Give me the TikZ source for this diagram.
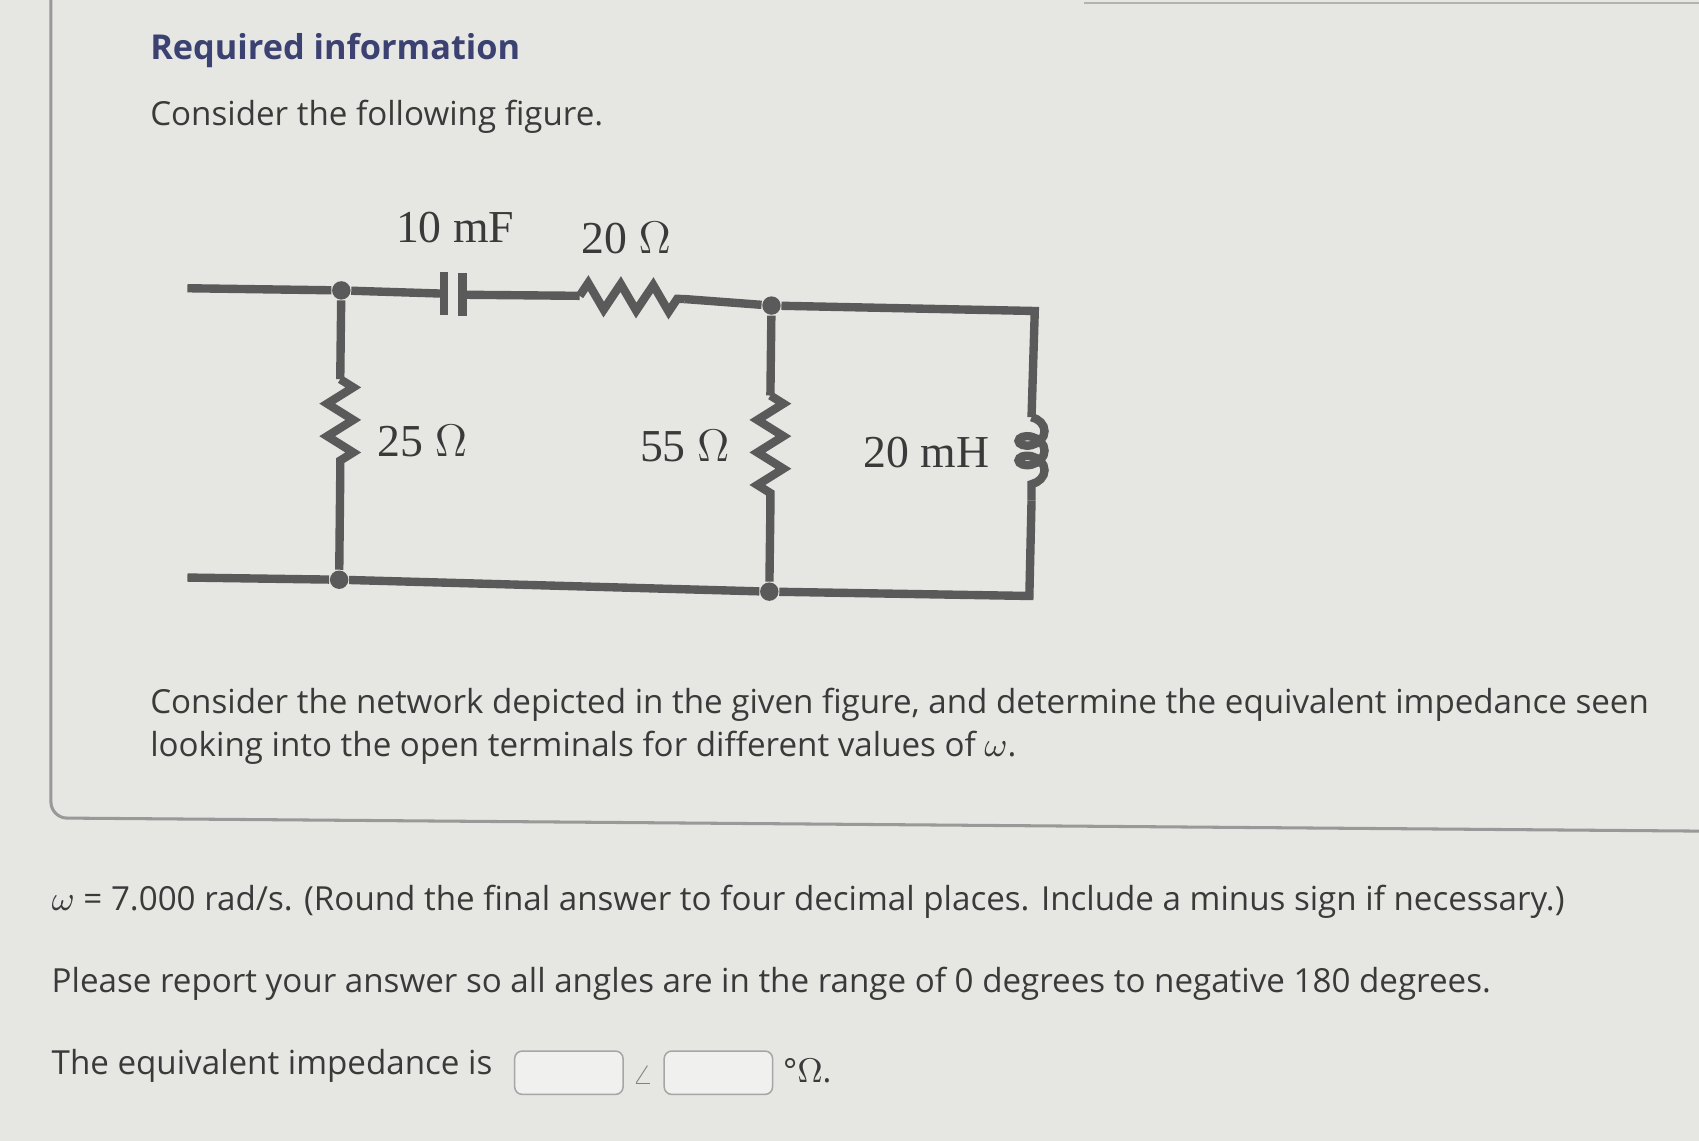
\documentclass[tikz,border=0pt]{standalone}
\usepackage{fontspec}
\setmainfont{Open Sans}
\newfontfamily\ckt{Liberation Serif}
\usetikzlibrary{decorations.pathmorphing}
\definecolor{bg}{HTML}{E6E6E3}
\definecolor{wire}{HTML}{5A5A5A}
\definecolor{txt}{HTML}{3A3A3A}
\definecolor{head}{HTML}{3B4272}
\begin{document}
\begin{tikzpicture}[x=0.01cm,y=-0.01cm,
  w/.style={draw=wire,line width=2.2pt},
  res/.style={w,decorate,decoration={zigzag,segment length=0.3cm,amplitude=0.12cm}},
  ind/.style={w,decorate,decoration={coil,aspect=0.7,segment length=0.18cm,amplitude=0.12cm}},
  dotn/.style={circle,fill=wire,inner sep=0pt,minimum size=0.17cm},
  lab/.style={font=\ckt\fontsize{12}{14}\selectfont,text=txt},
  para/.style={font=\fontsize{8.7}{10}\selectfont,text=txt,anchor=west,inner sep=0},
  ansbox/.style={draw=gray!70,rounded corners=2pt,minimum width=1cm,minimum height=0.4cm,fill=bg!60!white}]
\fill[bg] (0,0) rectangle (1568,1053);
\useasboundingbox (0,0) rectangle (1568,1053);
% panel border
\draw[gray!80,line width=0.8pt] (47,0) -- (47,740) arc[start angle=180,end angle=90,radius=15] -- ++(1506,12) -- (1568,766);
\draw[gray!60,line width=0.6pt] (1000,3) -- (1568,3);
% headings
\node[para,font=\bfseries\fontsize{9}{10}\selectfont,text=head] (t1) at (138,47) {Required information};
\node[para] (t2) at (138,108) {Consider the following figure.};
% circuit nodes
\node[dotn] (a) at (315,268) {};
\node[dotn] (b) at (712,282) {};
\node[dotn] (c) at (313,535) {};
\node[dotn] (d) at (710,546) {};
\coordinate (tl) at (173,266);
\coordinate (bl) at (173,533);
\coordinate (tr) at (955,287);
\coordinate (br) at (950,550);
\coordinate (c1) at (410,271);
\coordinate (c2) at (427,272);
\coordinate (r1s) at (535,273);
\coordinate (r1e) at (632,276);
\coordinate (r2s) at (314,350);
\coordinate (r2e) at (314,440);
\coordinate (r3s) at (711,365);
\coordinate (r3e) at (711,468);
\coordinate (ls) at (952,385);
\coordinate (le) at (952,462);
\draw[w] (tl) -- (a) -- (c1);
\draw[w] ([yshift=-0.2cm]c1) -- ([yshift=0.2cm]c1);
\draw[w] ([yshift=-0.2cm]c2) -- ([yshift=0.2cm]c2);
\draw[w] (c2) -- (r1s);
\draw[res] (r1s) -- (r1e);
\draw[w] (r1e) -- (b) -- (tr) -- (ls);
\draw[ind] (ls) -- (le);
\draw[w] (le) -- (br) -- (d) -- (c) -- (bl);
\draw[w] (a) -- (r2s); \draw[res] (r2s) -- (r2e); \draw[w] (r2e) -- (c);
\draw[w] (b) -- (r3s); \draw[res] (r3s) -- (r3e); \draw[w] (r3e) -- (d);
\node[lab] (l1) at (420,210) {10 mF};
\node[lab] (l2) at (578,220) {20 $\Omega$};
\node[lab] (l3) at (390,407) {25 $\Omega$};
\node[lab] (l4) at (632,412) {55 $\Omega$};
\node[lab] (l5) at (855,418) {20 mH};
% text
\node[para] (p1) at (138,650) {Consider the network depicted in the given figure, and determine the equivalent impedance seen};
\node[para] (p2) at (138,690) {looking into the open terminals for different values of $\omega$.};
\node[para] (p3) at (47,832) {$\omega$ = 7.000 rad/s. (Round the final answer to four decimal places. Include a minus sign if necessary.)};
\node[para] (p4) at (47,908) {Please report your answer so all angles are in the range of 0 degrees to negative 180 degrees.};
\node[para] (p5) at (47,984) {The equivalent impedance is};
\node[ansbox] (b1) at (525,990) {};
\node[font=\fontsize{6}{7}\selectfont,text=gray] (ang) at (593,992) {$\angle$};
\node[ansbox] (b2) at (663,990) {};
\node[para] (p6) at (722,988) {°$\Omega$.};
\end{tikzpicture}
\end{document}
